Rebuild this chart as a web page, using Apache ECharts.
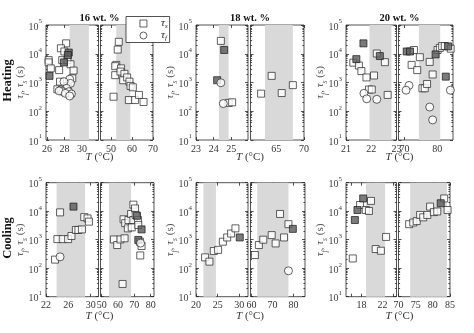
<!DOCTYPE html>
<html>
<head>
<meta charset="utf-8">
<script src="https://cdn.jsdelivr.net/npm/echarts@6/dist/echarts.min.js"></script>
<style>
  html, body { margin: 0; padding: 0; background: #fff; }
  #chart { width: 474px; height: 333px; }
</style>
</head>
<body>
<div id="chart"></div>
<script>
// ---------------------------------------------------------------------------
// Relaxation times [T (°C), tau (s)] — squares: tau_s, circles: tau_f.
// "Dark" arrays are the grey-filled tau_s points.
// ---------------------------------------------------------------------------

// Heating, 16 wt. %
const h16a_ts = [[28.2,2.3e4],[27.6,1.55e4],[28.0,1.2e4],[27.75,6e3],[28.35,6e3],[26.2,6e3],[26.2,5e3],
  [28.7,4.3e3],[26.45,3.1e3],[27.4,2.7e3],[29.05,2.6e3],[28.9,1.4e3],[27.5,1.07e3],[28.35,7.6e2],[27.2,5.8e2]];
const h16a_tsDark = [[28.5,1.1e4],[28.4,9e3],[27.95,5e3],[26.3,1.7e3]];
const h16a_tf = [[28.6,1.3e3],[28.7,9.3e2],[27.95,1.07e3],[28.25,6.3e2],[27.6,5.5e2],[27.8,4.8e2],
  [27.4,5.1e2],[28.5,4.8e2],[28.8,4e2],[28.1,4.2e2],[28.6,3.4e2]];
const h16b_ts = [[53.7,2.6e4],[53.2,1.4e4],[52.5,4.1e3],[52.0,3.7e3],[54.8,3.1e3],[52.0,1.8e3],[54.5,2.4e3],
  [56.4,2e3],[55.8,1.2e3],[57.7,1.5e3],[58.8,1.07e3],[59.3,7.6e2],[60.4,6.8e2],[51.2,3.2e2],[58.5,2.45e2],
  [61.4,2.45e2],[63.3,3.7e2],[65.5,2.1e2]];

// Heating, 18 wt. %
const h18a_ts = [[24.41,2.8e4],[24.85,1.95e2],[25.05,2.05e2]];
const h18a_tsDark = [[24.6,1.35e4],[24.2,1.2e3]];
const h18a_tf = [[24.41,9.8e2],[24.55,1.85e2]];
const h18b_ts = [[62.3,4.1e2],[64.2,1.7e3],[66.0,4.3e2],[68.0,8.1e2]];

// Heating, 20 wt. %
const h20a_ts = [[21.29,4.9e3],[21.51,3.9e3],[21.61,2.5e3],[21.81,1.5e3],[21.91,5.7e2],[22.02,5.7e2],
  [22.11,1.75e3],[22.22,1.02e4],[22.54,5.1e3],[22.65,3.7e2]];
const h20a_tsDark = [[21.41,6.5e3],[21.69,2.3e4],[22.34,8.3e3]];
const h20a_tf = [[21.71,4.2e2],[21.82,2.7e2],[22.22,2.6e2]];
const h20b_ts = [[72.9,1.35e4],[72.2,4.1e3],[73.9,2.7e3],[74.7,7.6e3],[75.5,6.3e2],[76.2,6.3e2],[76.9,8.9e2],
  [77.7,5.2e3],[78.6,1.9e3],[80.1,1.35e4],[80.8,1.6e4],[81.5,1.85e4],[82.3,1.85e4],[84.1,1.5e4]];
const h20b_tsDark = [[70.7,1.2e4],[71.7,1.2e4],[79.5,9.5e3],[83.3,1.8e4],[82.6,1.6e3]];
const h20b_tf = [[71.4,7.9e2],[70.5,5.4e2],[77.7,1.4e2],[78.6,50],[84.0,5.4e2]];

// Cooling, 16 wt. %
const c16a_ts = [[23.62,2.0e2],[24.04,1.05e3],[24.52,9.1e3],[25.0,1.05e3],[25.96,1.05e3],[26.56,1.35e3],
  [27.35,2.2e3],[27.8,2.2e3],[28.43,2.3e3],[28.85,6.2e3],[29.44,5.6e3],[29.69,4.3e3]];
const c16a_tsDark = [[26.92,1.45e4]];
const c16a_tf = [[24.52,2.5e2]];
const c16b_ts = [[57.5,1.02e3],[59.5,6.5e2],[61.5,1.02e3],[64.0,1.12e3],[63.4,5.2e3],[64.4,3.8e3],[66.0,2.5e3],
  [66.4,4.9e3],[68.0,8e3],[68.4,2.7e3],[69.4,1.7e4],[70.4,1.25e4],[69.4,4.9e3],[70.8,7.4e3],[72.2,4.9e3],
  [72.4,3.3e3],[73.4,8.5e2],[74.4,6.0e2],[73.6,2.8e2],[62.8,28]];
const c16b_tsDark = [[71.6,6.9e3],[74.4,2.3e3],[72.4,9.8e2]];
const c16b_tf = [[73.8,7.6e2]];

// Cooling, 18 wt. %
const c18a_ts = [[22.1,2.4e2],[23.1,1.7e2],[24.1,4.0e2],[25.1,4.4e2],[26.2,8.5e2],[27.2,1.2e3],[28.1,1.65e3],[29.1,2.5e3]];
const c18a_tsDark = [[30.1,1.2e3]];
const c18b_ts = [[61.6,2.9e2],[63.5,6.5e2],[65.6,1.0e3],[69.6,1.45e3],[71.5,7.4e2],[73.6,8e3],[75.5,1.2e3],[77.6,3.5e3]];
const c18b_tsDark = [[79.7,2.4e3]];
const c18b_tf = [[77.6,81]];

// Cooling, 20 wt. %
const c20a_ts = [[17.7,1.65e4],[18.8,1.1e4],[19.4,1.02e4],[19.8,2.3e4],[16.3,2.2e2],[20.7,4.7e2],[21.7,4.1e2],[22.7,1.25e3]];
const c20a_tsDark = [[18.3,2.8e4],[17.2,1.1e4],[16.7,4.9e3]];
const c20b_ts = [[73.1,3.5e3],[74.3,4.0e3],[75.3,4.5e3],[76.3,7.4e3],[77.2,6.1e3],[78.4,7.4e3],[79.2,1.45e4],
  [80.3,9.3e3],[81.3,9.8e3],[83.3,2.8e4],[84.3,1.1e4]];
const c20b_tsDark = [[82.3,1.9e4]];

// Shaded temperature windows [from, to] (°C)
const h16a_band = [28.6, 30.8], h16b_band = [52.5, 59.2];
const h18a_band = [24.3, 24.85], h18b_band = [63.0, 68.0];
const h20a_band = [21.93, 22.8], h20b_band = [74.4, 80.9];
const c16a_band = [23.9, 29.0], c16b_band = [54.5, 68.0];
const c18a_band = [21.7, 24.6], c18b_band = [62.7, 77.6];
const c20a_band = [18.85, 22.5], c20b_band = [73.4, 84.1];

// Temperature axis ticks and labels
const h16a_ticks = [26, 28, 30],  h16b_ticks = [50, 60, 70];
const h18a_ticks = [23, 24, 25],  h18b_ticks = [65, 70];
const h20a_ticks = [21, 22, 23],  h20b_ticks = [70, 80];
const c16a_ticks = [22, 24, 26, 28, 30], c16a_labels = [22, 26, 30];
const c16b_ticks = [50, 60, 70, 80];
const c18a_ticks = [20, 25, 30],  c18b_ticks = [60, 70, 80];
const c20a_ticks = [16, 18, 20, 22, 24], c20a_labels = [18, 22];
const c20b_ticks = [70, 75, 80, 85];

// Time axis (log) ticks
const yDecades = [10, 100, 1000, 10000, 100000];
const yMinor = [];
[10, 100, 1000, 10000].forEach(d => { for (let k = 2; k <= 9; k++) yMinor.push(d * k); });

// Text
const panelTitles = ['16 wt. %', '18 wt. %', '20 wt. %'];
const rowNames = ['Heating', 'Cooling'];

// ---------------------------------------------------------------------------
// Layout
// ---------------------------------------------------------------------------
const SERIF = "'Liberation Serif', 'DejaVu Serif', serif";
const INK = '#262626';
const ROWS = [{ top: 25, height: 115 }, { top: 182.7, height: 114 }];
const COLS = [
  { l: [46, 98.5], r: [100.5, 153] },
  { l: [196, 248], r: [250.5, 304] },
  { l: [346, 396.5], r: [398.5, 453] }
];
const COLS_BOTTOM_R = [[100.5, 154], [250.5, 305], [398.5, 450]];

const subplots = [
  { row: 0, x: COLS[0].l, min: 25.9, max: 31.9, ticks: h16a_ticks, labels: h16a_ticks, band: h16a_band, ts: h16a_ts, dark: h16a_tsDark, tf: h16a_tf, yLab: true },
  { row: 0, x: COLS[0].r, min: 45, max: 70, ticks: h16b_ticks, labels: h16b_ticks, band: h16b_band, ts: h16b_ts },
  { row: 0, x: COLS[1].l, min: 23, max: 25.95, ticks: h18a_ticks, labels: h18a_ticks, band: h18a_band, ts: h18a_ts, dark: h18a_tsDark, tf: h18a_tf, yLab: true },
  { row: 0, x: COLS[1].r, min: 60.4, max: 70, ticks: h18b_ticks, labels: h18b_ticks, band: h18b_band, ts: h18b_ts },
  { row: 0, x: COLS[2].l, min: 21, max: 23, ticks: h20a_ticks, labels: h20a_ticks, band: h20a_band, ts: h20a_ts, dark: h20a_tsDark, tf: h20a_tf, yLab: true },
  { row: 0, x: COLS[2].r, min: 68.2, max: 84.8, ticks: h20b_ticks, labels: h20b_ticks, band: h20b_band, ts: h20b_ts, dark: h20b_tsDark, tf: h20b_tf },
  { row: 1, x: COLS[0].l, min: 22, max: 31.4, ticks: c16a_ticks, labels: c16a_labels, band: c16a_band, ts: c16a_ts, dark: c16a_tsDark, tf: c16a_tf, yLab: true },
  { row: 1, x: COLS_BOTTOM_R[0], min: 49.3, max: 82, ticks: c16b_ticks, labels: c16b_ticks, band: c16b_band, ts: c16b_ts, dark: c16b_tsDark, tf: c16b_tf },
  { row: 1, x: COLS[1].l, min: 20, max: 32, ticks: c18a_ticks, labels: c18a_ticks, band: c18a_band, ts: c18a_ts, dark: c18a_tsDark, yLab: true },
  { row: 1, x: COLS_BOTTOM_R[1], min: 59.5, max: 85.5, ticks: c18b_ticks, labels: c18b_ticks, band: c18b_band, ts: c18b_ts, dark: c18b_tsDark, tf: c18b_tf },
  { row: 1, x: COLS[2].l, min: 15, max: 24.7, ticks: c20a_ticks, labels: c20a_labels, band: c20a_band, ts: c20a_ts, dark: c20a_tsDark, yLab: true },
  { row: 1, x: COLS_BOTTOM_R[2], min: 70, max: 85, ticks: c20b_ticks, labels: c20b_ticks, band: c20b_band, ts: c20b_ts, dark: c20b_tsDark }
];

function xAxisCfg(gi, s, pos, withLabels) {
  return {
    gridIndex: gi, type: 'value', position: pos, min: s.min, max: s.max,
    axisLine: { show: false }, splitLine: { show: false },
    axisTick: { show: true, inside: true, length: 3, customValues: s.ticks, lineStyle: { color: INK, width: 0.8 } },
    axisLabel: { show: withLabels, customValues: s.labels, margin: 4, fontFamily: SERIF, fontSize: 10, color: '#333' }
  };
}

function yAxisCfg(gi, pos, ticks, len, withLabels) {
  return {
    gridIndex: gi, type: 'log', logBase: 10, position: pos, min: 10, max: 100000,
    axisLine: { show: false }, splitLine: { show: false }, minorTick: { show: false },
    axisTick: { show: true, inside: true, length: len, customValues: ticks, lineStyle: { color: INK, width: 0.8 } },
    axisLabel: {
      show: withLabels, customValues: yDecades, margin: 4,
      formatter: v => '{b|10}{e|' + Math.round(Math.log10(v)) + '}',
      rich: {
        b: { fontFamily: SERIF, fontSize: 10, color: '#444', lineHeight: 14, verticalAlign: 'bottom' },
        e: { fontFamily: SERIF, fontSize: 7, color: '#444', lineHeight: 8, verticalAlign: 'top' }
      }
    }
  };
}

const grids = [], xAxes = [], yAxes = [], series = [];
subplots.forEach((s, i) => {
  const r = ROWS[s.row];
  grids.push({
    left: s.x[0], top: r.top, width: s.x[1] - s.x[0], height: r.height,
    show: true, borderColor: INK, borderWidth: 0.8, backgroundColor: 'rgba(0,0,0,0)',
    containLabel: false, outerBoundsMode: 'none'
  });
  const xi = xAxes.length;
  xAxes.push(xAxisCfg(i, s, 'bottom', true));
  xAxes.push(xAxisCfg(i, s, 'top', false));
  const yi = yAxes.length;
  yAxes.push(yAxisCfg(i, 'left', yDecades, 3, !!s.yLab));
  yAxes.push(yAxisCfg(i, 'left', yMinor, 1.6, false));
  yAxes.push(yAxisCfg(i, 'right', yDecades, 3, false));
  yAxes.push(yAxisCfg(i, 'right', yMinor, 1.6, false));

  // shaded temperature window
  series.push({
    type: 'line', xAxisIndex: xi, yAxisIndex: yi, data: [], silent: true, z: 1,
    markArea: {
      silent: true, itemStyle: { color: '#d9d9d9', opacity: 1 },
      data: [[{ xAxis: s.band[0], yAxis: 10 }, { xAxis: s.band[1], yAxis: 100000 }]]
    }
  });
  series.push({
    name: 'τs', type: 'scatter', xAxisIndex: xi, yAxisIndex: yi, data: s.ts, clip: false, silent: true,
    symbol: 'rect', symbolSize: 7, z: 3,
    itemStyle: { color: '#ffffff', borderColor: INK, borderWidth: 0.9 }
  });
  if (s.dark) series.push({
    name: 'τs marked', type: 'scatter', xAxisIndex: xi, yAxisIndex: yi, data: s.dark, clip: false, silent: true,
    symbol: 'rect', symbolSize: 7, z: 4,
    itemStyle: { color: '#5a5a5a', borderColor: '#1a1a1a', borderWidth: 0.9 }
  });
  if (s.tf) series.push({
    name: 'τf', type: 'scatter', xAxisIndex: xi, yAxisIndex: yi, data: s.tf, clip: false, silent: true,
    symbol: 'circle', symbolSize: 8, z: 5,
    itemStyle: { color: '#ffffff', borderColor: INK, borderWidth: 0.9 }
  });
});

// Text labels around the panels
const graphic = [];
const colCenters = [99.5, 250, 399.5];
panelTitles.forEach((t, c) => graphic.push({
  type: 'text', x: colCenters[c], y: 18,
  style: { text: t, align: 'center', verticalAlign: 'middle', fontFamily: SERIF, fontWeight: 'bold', fontSize: 10.5, fill: '#111' }
}));
const tRich = {
  i: { fontFamily: SERIF, fontStyle: 'italic', fontSize: 11, fill: '#333' },
  n: { fontFamily: SERIF, fontSize: 11, fill: '#333' }
};
[157, 316].forEach(y => colCenters.forEach(cx => graphic.push({
  type: 'text', x: cx, y: y,
  style: { text: '{i|T}{n| (°C)}', rich: tRich, align: 'center', verticalAlign: 'middle' }
})));
const tauRich = {
  t: { fontFamily: SERIF, fontStyle: 'italic', fontSize: 11, fill: '#555', lineHeight: 14, verticalAlign: 'top' },
  sb: { fontFamily: SERIF, fontStyle: 'italic', fontSize: 7.5, fill: '#555', lineHeight: 9, verticalAlign: 'bottom' },
  n: { fontFamily: SERIF, fontSize: 11, fill: '#555', lineHeight: 14, verticalAlign: 'top' }
};
const rowCenters = [82.5, 240];
[22, 172, 322].forEach(cx => rowCenters.forEach(cy => graphic.push({
  type: 'text', x: cx, y: cy, rotation: Math.PI / 2,
  style: { text: '{t|τ}{sb|f}{n|, }{t|τ}{sb|s}{n| (s)}', rich: tauRich, align: 'center', verticalAlign: 'middle' }
})));
rowNames.forEach((t, r) => graphic.push({
  type: 'text', x: 8, y: rowCenters[r] - 2, rotation: Math.PI / 2,
  style: { text: t, align: 'center', verticalAlign: 'middle', fontFamily: SERIF, fontWeight: 'bold', fontSize: 12.5, fill: '#111' }
}));

const chart = echarts.init(document.getElementById('chart'), null, { renderer: 'canvas' });
chart.setOption({
  animation: false,
  backgroundColor: '#ffffff',
  grid: grids,
  xAxis: xAxes,
  yAxis: yAxes,
  series: series,
  graphic: graphic,
  legend: {
    left: 126, top: 16.5, orient: 'vertical', selectedMode: false, z: 10,
    itemWidth: 7, itemHeight: 7, itemGap: 0,
    padding: [1, 2, 1, 13.5],
    backgroundColor: '#ffffff', borderColor: INK, borderWidth: 0.8, borderRadius: 0,
    data: [{ name: 'τs', icon: 'rect' }, { name: 'τf', icon: 'circle' }],
    itemStyle: { color: '#ffffff', borderColor: INK, borderWidth: 0.9 },
    formatter: n => '{g|τ}{u|' + n.slice(1) + '}',
    textStyle: {
      padding: [0, 0, 0, 9],
      rich: {
        g: { fontFamily: SERIF, fontStyle: 'italic', fontSize: 11, color: '#222', lineHeight: 12, verticalAlign: 'top' },
        u: { fontFamily: SERIF, fontStyle: 'italic', fontSize: 7, color: '#222', lineHeight: 8, verticalAlign: 'bottom' }
      }
    }
  }
});
</script>
</body>
</html>
